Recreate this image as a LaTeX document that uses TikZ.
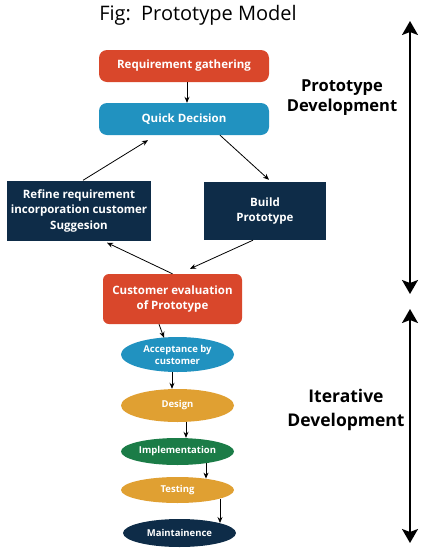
\documentclass[tikz,border=0pt]{standalone}
\usepackage{fontspec}
\setmainfont{Open Sans}
\usetikzlibrary{arrows.meta,shapes.geometric,calc}
\definecolor{cOrange}{HTML}{D9472B}
\definecolor{cBlue}{HTML}{2192C0}
\definecolor{cNavy}{HTML}{0E2C48}
\definecolor{cGold}{HTML}{E0A032}
\definecolor{cGreen}{HTML}{1B7C47}
\begin{document}
\begin{tikzpicture}[x=1pt,y=-1pt,
  rbox/.style={rounded corners=8pt, minimum width=170pt, minimum height=32pt, inner sep=0pt, text=white, font=\fontsize{11.5}{14}\selectfont\bfseries, align=center},
  sbox/.style={minimum height=60pt, inner sep=0pt, text=white, font=\fontsize{11.5}{15.5}\selectfont\bfseries, align=center, fill=cNavy},
  ell/.style={ellipse, minimum width=113pt, inner sep=0pt, text=white, font=\fontsize{9.5}{12}\selectfont\bfseries, align=center},
  arr/.style={-{Stealth[length=6pt,width=5pt]}, line width=0.8pt},
  bigarr/.style={{Stealth[length=14pt,width=16pt,inset=3pt]}-{Stealth[length=14pt,width=16pt,inset=3pt]}, line width=1.8pt},
  lbl/.style={align=center}]
\useasboundingbox (0,0) rectangle (424,552);
\node (title) at (198,15) {\fontsize{20}{22}\selectfont Fig:\, Prototype Model};
\node[rbox, fill=cOrange] (rg) at (184,66) {Requirement gathering};
\node[rbox, fill=cBlue] (qd) at (184,119) {Quick Decision};
\node[sbox, minimum width=144pt] (ref) at (79,210.5) {Refine requirement\\incorporation customer\\Suggesion};
\node[sbox, minimum width=122pt, minimum height=58pt] (bp) at (265,211) {Build\\Prototype};
\node[rbox, fill=cOrange, rounded corners=6pt, minimum width=139pt, minimum height=50pt, font=\fontsize{11.5}{15.5}\selectfont\bfseries] (ce) at (172.5,299) {Customer evaluation\\of Prototype};
\node[ell, fill=cBlue, minimum height=35pt] (acc) at (177.5,354.5) {Acceptance by\\customer};
\node[ell, fill=cGold, minimum height=33pt] (des) at (177.5,405.5) {Design};
\node[ell, fill=cGreen, minimum height=27pt] (imp) at (177.5,451.5) {Implementation};
\node[ell, fill=cGold, minimum height=26pt] (tst) at (177.5,490) {Testing};
\node[ell, fill=cNavy, minimum height=28pt] (mnt) at (179.5,533) {Maintainence};
\node[lbl, font=\fontsize{16.5}{20}\selectfont\bfseries] (pd) at (342,98) {Prototype\\Development};
\node[lbl, font=\fontsize{17.5}{24}\selectfont\bfseries] (id) at (346,410) {Iterative\\Development};
\coordinate (a1) at (410,21);
\coordinate (a2) at (410,294);
\coordinate (a3) at (410,309);
\coordinate (a4) at (410,543);
\draw[bigarr] (a1) -- (a2);
\draw[bigarr] (a3) -- (a4);
\draw[arr] ([xshift=3pt]rg.south) -- ([xshift=3pt]qd.north);
\draw[arr] ([xshift=4pt]ref.north) -- ([xshift=-36pt,yshift=-5pt]qd.south);
\draw[arr] ([xshift=36pt]qd.south) -- ([xshift=4pt,yshift=2pt]bp.north);
\draw[arr] ([xshift=-12pt]bp.south) -- ([xshift=17.5pt,yshift=5pt]ce.north);
\draw[arr] (ce.north) -- ([xshift=28pt,yshift=-2pt]ref.south);
\draw[arr] ([xshift=-13.5pt]ce.south) -- ([xshift=-13.5pt,yshift=-1pt]acc.north);
\draw[arr] ([xshift=-5.5pt]acc.south) -- ([xshift=-5.5pt]des.north);
\draw[arr] ([xshift=8.5pt]des.south) -- ([xshift=8.5pt]imp.north);
\draw[arr] ([xshift=28.5pt,yshift=1.8pt]imp.south) -- ([xshift=28.5pt,yshift=-1.8pt]tst.north);
\draw[arr] ([xshift=42.5pt,yshift=4.4pt]tst.south) -- ([xshift=40.5pt,yshift=-4.2pt]mnt.north);
\end{tikzpicture}
\end{document}
